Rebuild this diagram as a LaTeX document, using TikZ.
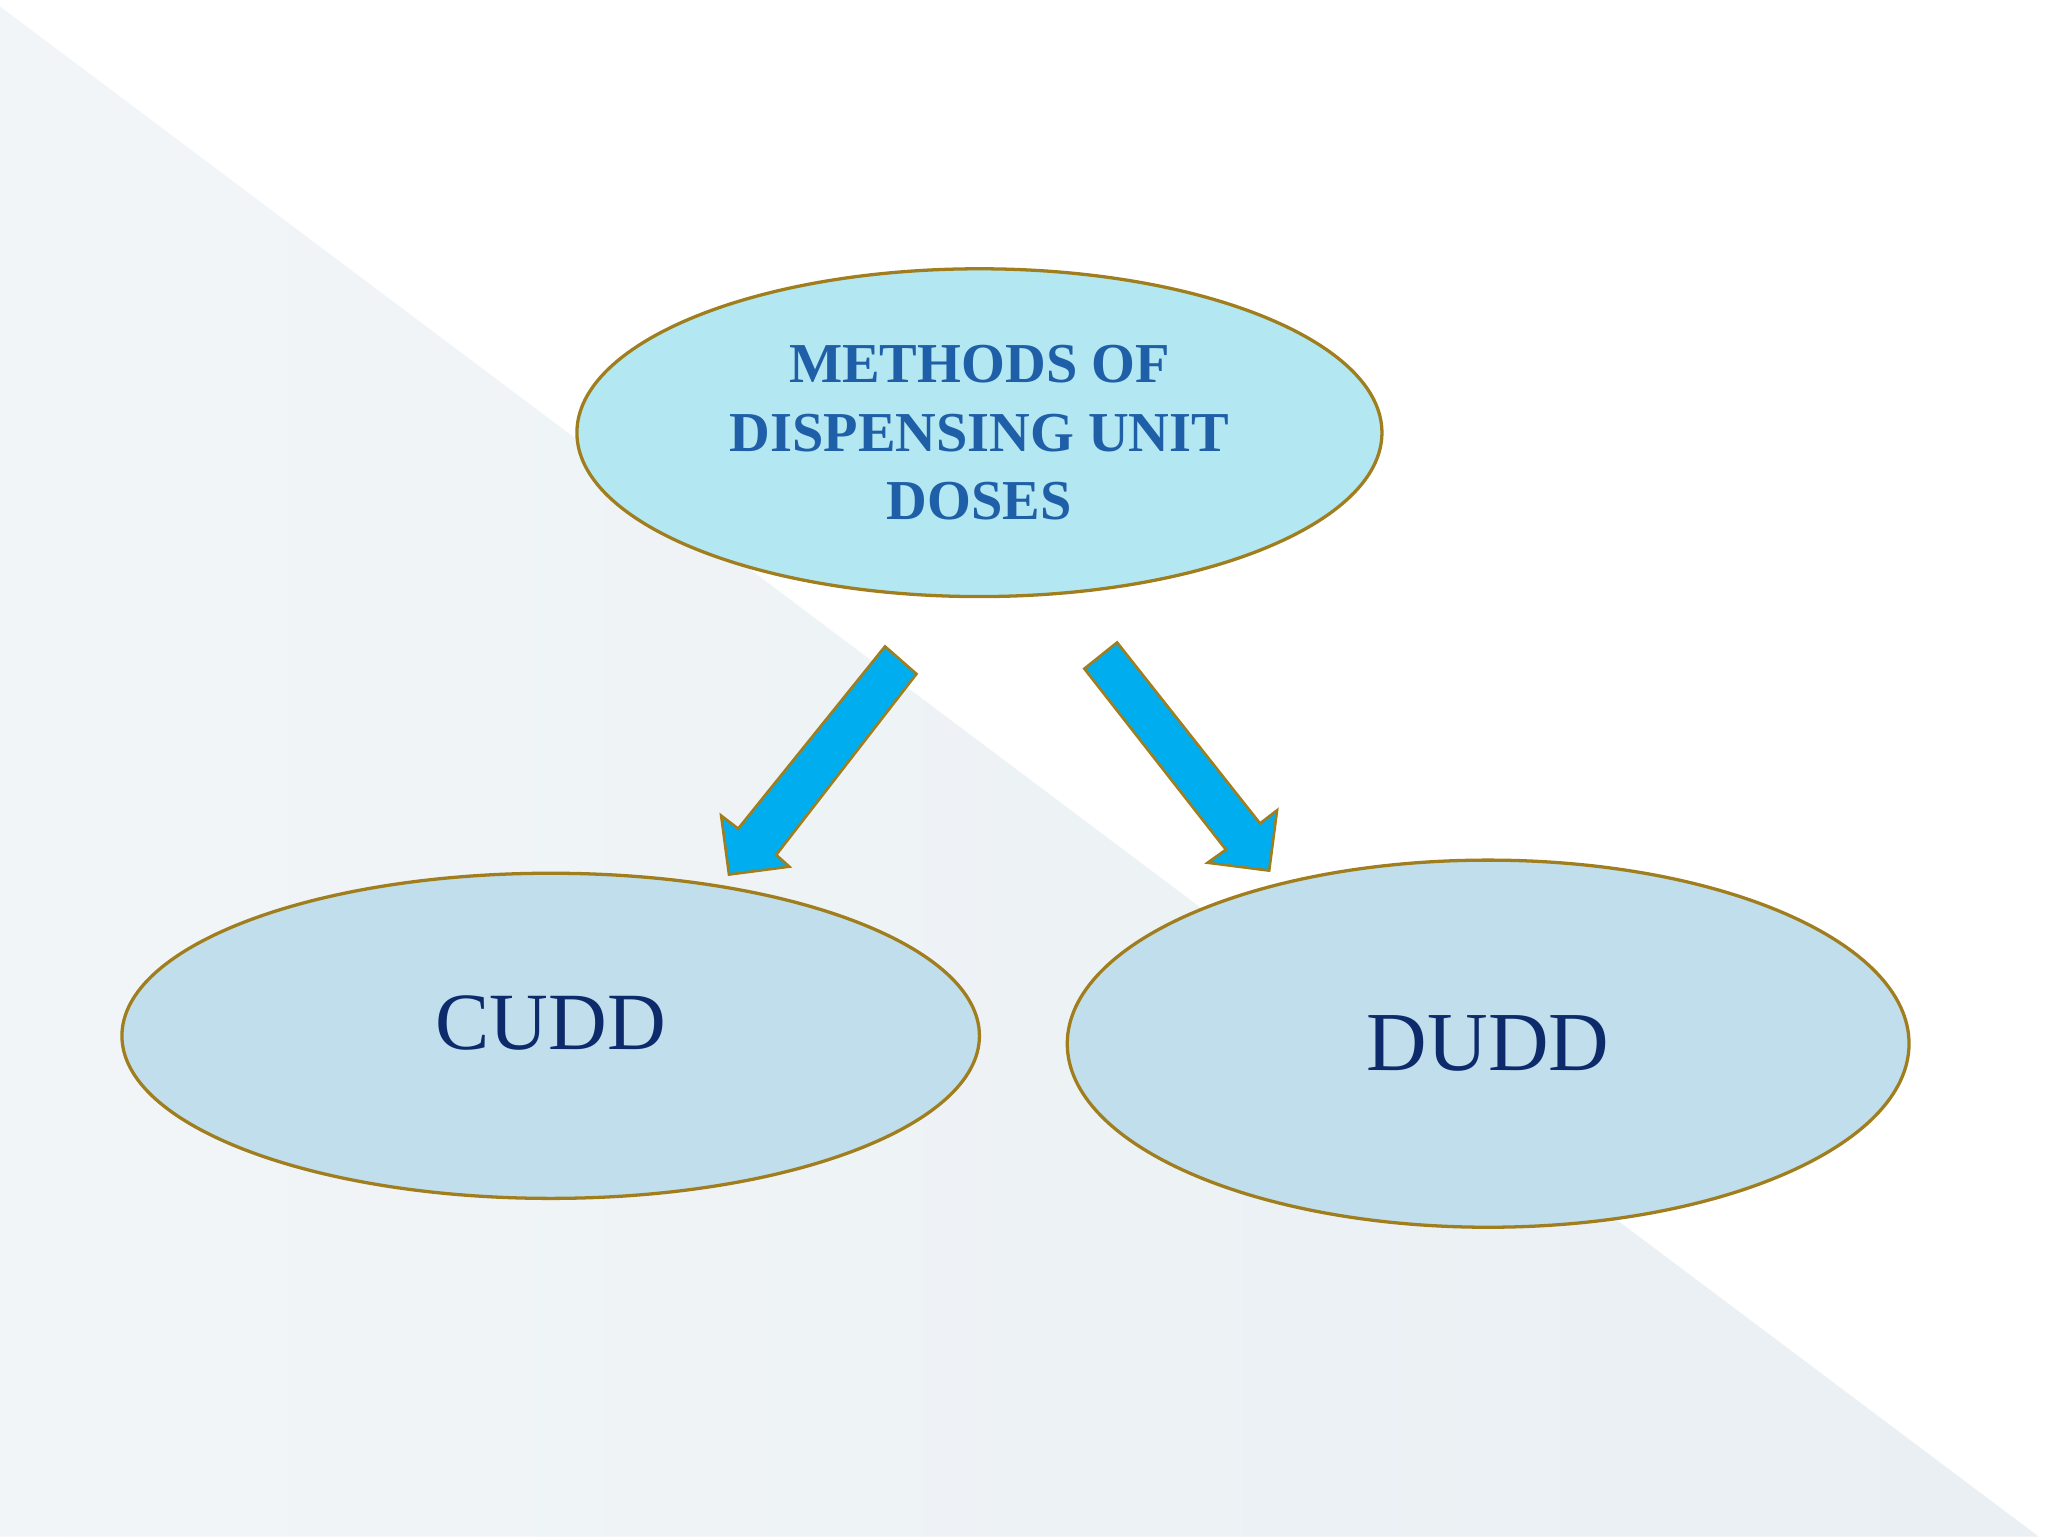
\documentclass[tikz,border=0pt]{standalone}
\usepackage{fontspec}
\setmainfont{Liberation Serif}
\usetikzlibrary{shapes.geometric}
\definecolor{bord}{HTML}{A07E1E}
\definecolor{topfill}{HTML}{B3E8F2}
\definecolor{lowfill}{HTML}{C0DEEC}
\definecolor{arr}{HTML}{00AEEF}
\definecolor{ttxt}{HTML}{1F5FA8}
\definecolor{btxt}{HTML}{0D2A6B}
\definecolor{bg}{HTML}{E9EFF3}
\tikzset{
  oval/.style={ellipse, draw=bord, line width=2.5pt, inner sep=0pt},
  blockarrow/.style={fill=arr, draw=bord, line width=2pt, line join=miter}
}
\begin{document}
\begin{tikzpicture}[x=1pt,y=-1pt]
\useasboundingbox (0,0) rectangle (1562,1172);
\fill[white] (0,0) rectangle (1562,1172);
\shade[left color=bg!60!white, right color=bg] (0,5) -- (1555,1172) -- (0,1172) -- cycle;
\node[oval, fill=topfill, minimum width=614, minimum height=250] (top) at (747,330) {};
\node[font=\bfseries\fontsize{43}{52}\selectfont, text=ttxt, align=center] (toptxt) at (747,330) {METHODS OF\\DISPENSING UNIT\\DOSES};
\node[oval, fill=lowfill, minimum width=654, minimum height=248] (cudd) at (420,790) {};
\node[font=\fontsize{62}{66}\selectfont, text=btxt] at (420,780) {CUDD};
\node[oval, fill=lowfill, minimum width=642, minimum height=280] (dudd) at (1135,796) {};
\node[font=\fontsize{64}{68}\selectfont, text=btxt] at (1135,796) {DUDD};
\draw[blockarrow] (675,493) -- (699,514) -- (592,652) -- (602,661) -- (556,667) -- (550,622) -- (563,632) -- cycle;
\draw[blockarrow] (827,510) -- (852,490) -- (961,628) -- (974,618) -- (968,664) -- (921,658) -- (935,648) -- cycle;
\end{tikzpicture}
\end{document}
